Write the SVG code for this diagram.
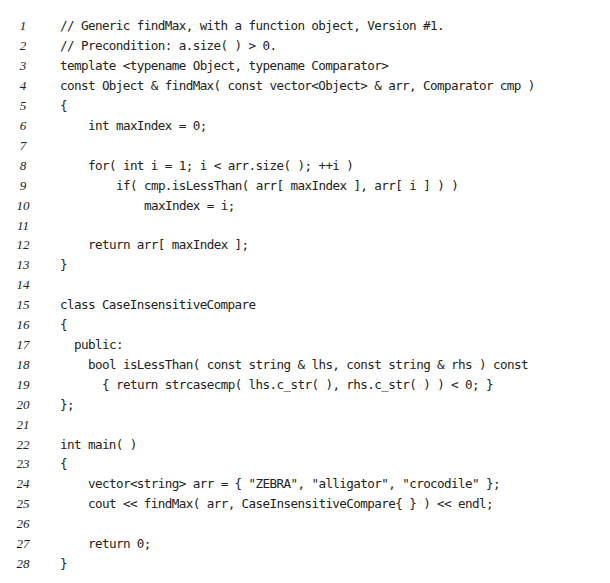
<svg xmlns="http://www.w3.org/2000/svg" width="610" height="583" viewBox="0 0 610 583">
<style>
.n{font-family:"Liberation Serif",serif;font-style:italic;font-size:13px;fill:#222;text-anchor:middle}
.c{font-family:"DejaVu Sans Mono","Liberation Mono",monospace;font-size:12.6px;letter-spacing:-0.6px;fill:#222;white-space:pre}
</style>
<rect width="610" height="583" fill="#fff"/>
<g id="linenumbers">
<text class="n" x="23" y="30">1</text><text class="n" x="23" y="50">2</text><text class="n" x="23" y="70">3</text><text class="n" x="23" y="90">4</text><text class="n" x="23" y="110">5</text><text class="n" x="23" y="130">6</text><text class="n" x="23" y="150">7</text><text class="n" x="23" y="170">8</text><text class="n" x="23" y="190">9</text><text class="n" x="23" y="210">10</text><text class="n" x="23" y="230">11</text><text class="n" x="23" y="249">12</text><text class="n" x="23" y="269">13</text><text class="n" x="23" y="289">14</text><text class="n" x="23" y="309">15</text><text class="n" x="23" y="329">16</text><text class="n" x="23" y="349">17</text><text class="n" x="23" y="369">18</text><text class="n" x="23" y="389">19</text><text class="n" x="23" y="409">20</text><text class="n" x="23" y="429">21</text><text class="n" x="23" y="449">22</text><text class="n" x="23" y="468">23</text><text class="n" x="23" y="488">24</text><text class="n" x="23" y="508">25</text><text class="n" x="23" y="528">26</text><text class="n" x="23" y="548">27</text><text class="n" x="23" y="568">28</text>
</g>
<g id="code">
<text class="c" x="60" y="30">// Generic findMax, with a function object, Version #1.</text>
<text class="c" x="60" y="50">// Precondition: a.size( ) &gt; 0.</text>
<text class="c" x="60" y="70">template &lt;typename Object, typename Comparator&gt;</text>
<text class="c" x="60" y="90">const Object &amp; findMax( const vector&lt;Object&gt; &amp; arr, Comparator cmp )</text>
<text class="c" x="60" y="110">{</text>
<text class="c" x="88" y="130">int maxIndex = 0;</text>
<text class="c" x="88" y="170">for( int i = 1; i &lt; arr.size( ); ++i )</text>
<text class="c" x="116" y="190">if( cmp.isLessThan( arr[ maxIndex ], arr[ i ] ) )</text>
<text class="c" x="144" y="210">maxIndex = i;</text>
<text class="c" x="88" y="249">return arr[ maxIndex ];</text>
<text class="c" x="60" y="269">}</text>
<text class="c" x="60" y="309">class CaseInsensitiveCompare</text>
<text class="c" x="60" y="329">{</text>
<text class="c" x="74" y="349">public:</text>
<text class="c" x="88" y="369">bool isLessThan( const string &amp; lhs, const string &amp; rhs ) const</text>
<text class="c" x="102" y="389">{ return strcasecmp( lhs.c_str( ), rhs.c_str( ) ) &lt; 0; }</text>
<text class="c" x="60" y="409">};</text>
<text class="c" x="60" y="449">int main( )</text>
<text class="c" x="60" y="468">{</text>
<text class="c" x="88" y="488">vector&lt;string&gt; arr = { "ZEBRA", "alligator", "crocodile" };</text>
<text class="c" x="88" y="508">cout &lt;&lt; findMax( arr, CaseInsensitiveCompare{ } ) &lt;&lt; endl;</text>
<text class="c" x="88" y="548">return 0;</text>
<text class="c" x="60" y="568">}</text>
</g>
</svg>
